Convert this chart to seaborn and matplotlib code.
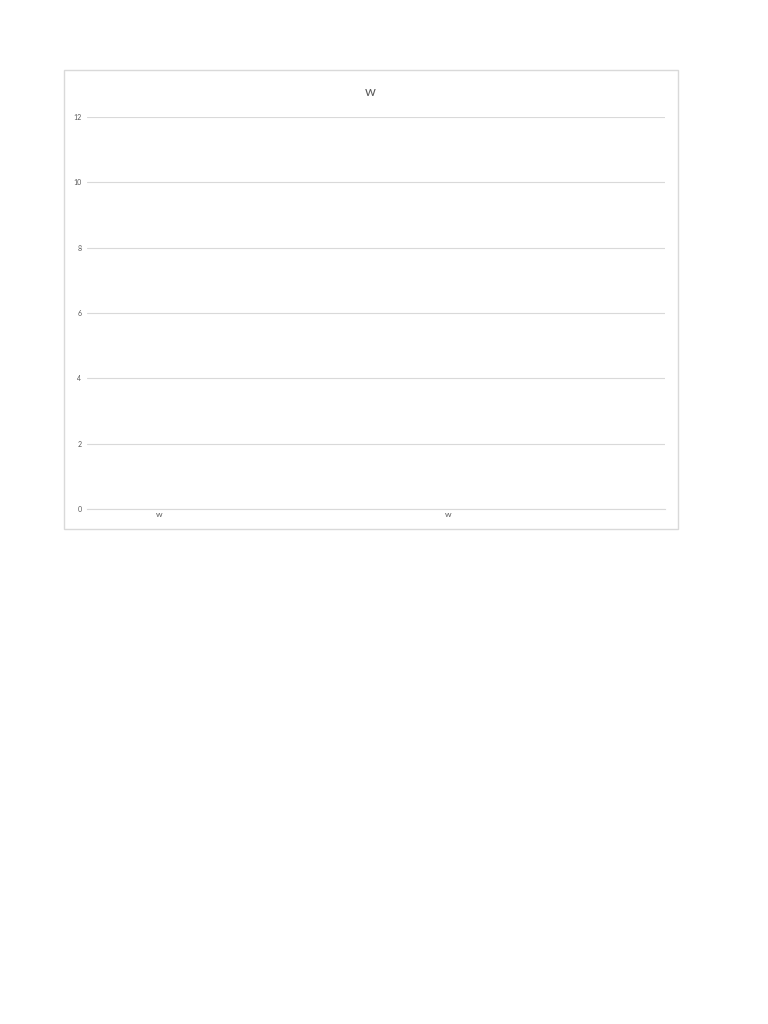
import seaborn as sns
import pandas as pd
import matplotlib.pyplot as plt
import matplotlib.patches as mpatches

# data: an empty column chart (all values zero)
categories = ["w", "w", "w", "w"]
values = [0, 0, 0, 0]
shown_labels = ["w", "", "w", ""]
y_ticks = [0, 2, 4, 6, 8, 10, 12]
title = "w"

sns.set_theme(style="white")
plt.rcParams['font.family'] = ['Lato', 'DejaVu Sans']

fig = plt.figure(figsize=(7.68, 10.24), dpi=100)

# chart area border
fig.patches.append(mpatches.Rectangle((64 / 768, 1 - 529 / 1024), 614 / 768, 459 / 1024,
                                      transform=fig.transFigure, fill=False,
                                      edgecolor="#d9d9d9", linewidth=1))

ax = fig.add_axes([87 / 768, 1 - 509 / 1024, 578 / 768, 392 / 1024])
data = pd.DataFrame({"cat": range(len(categories)), "val": values})
sns.barplot(data=data, x="cat", y="val", color="#4472c4", ax=ax)

ax.set_ylim(0, 12)
ax.set_yticks(y_ticks)
ax.set_yticklabels([str(t) for t in y_ticks])
ax.set_xticks(range(len(categories)))
ax.set_xticklabels(shown_labels)
ax.set_xlabel("")
ax.set_ylabel("")
ax.grid(axis="y", color="#d9d9d9", linewidth=0.8)
ax.set_axisbelow(True)
for s in ax.spines.values():
    s.set_visible(False)
ax.spines["bottom"].set_visible(True)
ax.spines["bottom"].set_color("#d9d9d9")
ax.spines["bottom"].set_linewidth(0.8)
ax.tick_params(axis="y", length=0, pad=4, labelsize=5, labelcolor="#595959")
ax.tick_params(axis="x", length=0, pad=1.5, labelsize=6, labelcolor="#595959")

fig.text(370 / 768, 1 - 92 / 1024, title, ha="center", va="center",
         fontsize=10, color="#595959")

fig.savefig("out.png", dpi=100)
